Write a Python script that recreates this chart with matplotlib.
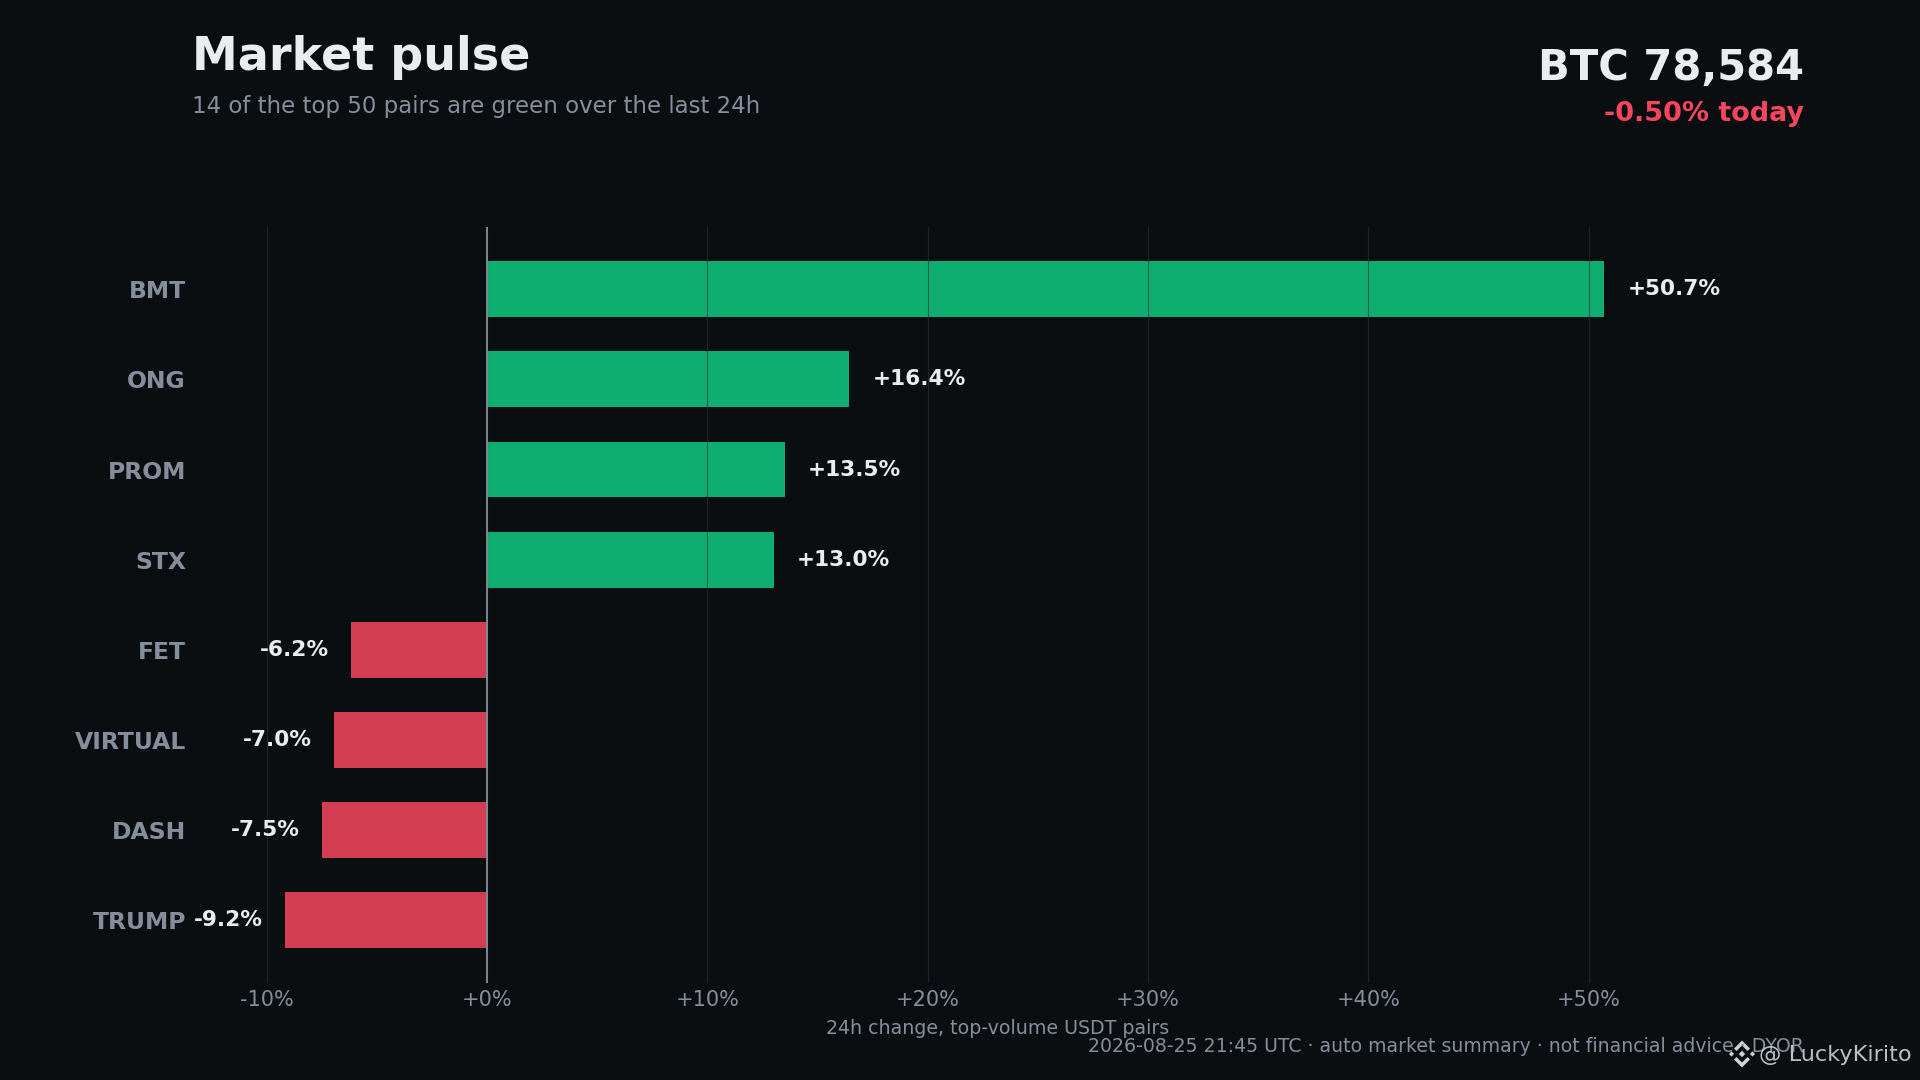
import matplotlib.pyplot as plt
from matplotlib.patches import Polygon

tickers = ["BMT", "ONG", "PROM", "STX", "FET", "VIRTUAL", "DASH", "TRUMP"]
changes = [50.7, 16.44, 13.5, 13.0, -6.2, -6.96, -7.5, -9.2]
x_ticks = [-10, 0, 10, 20, 30, 40, 50]

BG = "#0b0e11"
GREEN = "#0ecb81"
RED = "#f6465d"
MUTED = "#848e9c"
WHITE = "#eaecef"

plt.rcParams['font.family'] = ['DejaVu Sans']

fig = plt.figure(figsize=(16, 9), dpi=120, facecolor=BG)
ax = fig.add_axes([192 / 1920, 1 - 983 / 1080, (1804 - 192) / 1920, (983 - 227) / 1080])
ax.set_facecolor(BG)

# Bars
colors = [GREEN if v >= 0 else RED for v in changes]
ypos = range(len(tickers))
ax.barh(ypos, changes, height=0.62, color=colors, alpha=0.85, zorder=2)

ax.set_xlim(-13.4, 59.78)
ax.set_ylim(7.695, -0.69)

# Faint grid sits on top of the bars
ax.set_xticks(x_ticks)
ax.set_xticklabels([f"{t:+d}%" for t in x_ticks], fontsize=12.5, color=MUTED)
ax.grid(axis="x", color="#2b3139", alpha=0.6, linewidth=0.7, zorder=3)
ax.set_axisbelow(False)
ax.axvline(0, color=MUTED, linewidth=1.1, zorder=4)

ax.set_yticks(list(ypos))
ax.set_yticklabels(tickers, fontsize=14.1, fontweight="bold", color=MUTED)
ax.tick_params(axis="both", length=0)
ax.tick_params(axis="x", pad=4)
ax.tick_params(axis="y", pad=3.6)
for s in ax.spines.values():
    s.set_visible(False)

# Value labels
for y, v in zip(ypos, changes):
    ha = "left" if v >= 0 else "right"
    off = 14 if v >= 0 else -13
    ax.annotate(f"{v:+.1f}%", (v, y), xytext=(off, 0), textcoords="offset points",
                ha=ha, va="center", fontsize=13, fontweight="bold", color=WHITE)

ax.set_xlabel("24h change, top-volume USDT pairs", fontsize=11.4, color=MUTED, labelpad=5.5)

# Header
fig.text(192 / 1920, 1 - 57 / 1080, "Market pulse", fontsize=27.6, fontweight="bold", color=WHITE, va="center")
fig.text(192 / 1920, 1 - 106 / 1080, "14 of the top 50 pairs are green over the last 24h", fontsize=13.75, color=MUTED, va="center")
fig.text(1804.5 / 1920, 1 - 68.5 / 1080, "BTC 78,584", fontsize=25, fontweight="bold", color=WHITE, ha="right", va="center")
fig.text(1804.5 / 1920, 1 - 114 / 1080, "-0.50% today", fontsize=16.2, fontweight="bold", color=RED, ha="right", va="center")

# Footer
fig.text(1804 / 1920, 1 - 1047 / 1080, "2026-08-25 21:45 UTC · auto market summary · not financial advice · DYOR",
         fontsize=11.37, color=MUTED, ha="right", va="center")

# Watermark
LOGO = "#d0d3d6"
fig.text(1912 / 1920, 1 - 1055 / 1080, "@ LuckyKirito", fontsize=13.4, color=LOGO, ha="right", va="center", alpha=0.9)
cx, cy = 1742, 1054
top = [(0, -13.5), (8, -5.5), (5.5, -3), (0, -8.5), (-5.5, -3), (-8, -5.5)]
bottom = [(a, -b) for a, b in top]
center = [(0, -3.2), (3.2, 0), (0, 3.2), (-3.2, 0)]
left = [(-10.5, -2.6), (-7.9, 0), (-10.5, 2.6), (-13.1, 0)]
right = [(-a, b) for a, b in left]
for shape in [top, bottom, center, left, right]:
    fig.add_artist(Polygon([((cx + a) / 1920, 1 - (cy + b) / 1080) for a, b in shape], closed=True,
                           transform=fig.transFigure, facecolor=LOGO, edgecolor="none"))

fig.savefig("out.png", dpi=120, facecolor=BG)
